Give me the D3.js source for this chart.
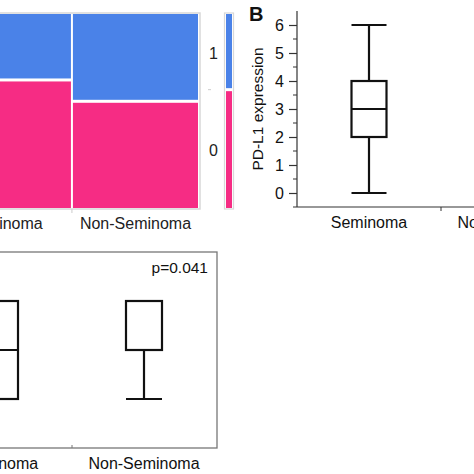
<!DOCTYPE html>
<html><head><meta charset="utf-8">
<script src="https://cdn.jsdelivr.net/npm/d3@7"></script>
<style>html,body{margin:0;padding:0;background:#fff;overflow:hidden}svg{display:block}text{font-family:Arial,"Liberation Sans",sans-serif}</style>
</head><body>
<svg id="c" width="474" height="474"></svg>
<script>
// ---- data ----
const categories = ["Seminoma", "Non-Seminoma"];
const mosaicColShare = [0.515, 0.485];      // column widths (share of patients)
const mosaicShare1 = [0.34, 0.45];          // share with PD-L1 = 1
const marginalShare1 = 0.39;
const mosaicLevels = ["1", "0"];
// panel B box stats (min, q1, median, q3, max)
const boxB = [{cat:"Seminoma", min:0, q1:2, med:3, q3:4, max:6}];
const yTicksB = [0,1,2,3,4,5,6];
const yLabelB = "PD-L1 expression";
// panel C box stats
const boxC = [
  {cat:"Seminoma", min:1, q1:1, med:2, q3:3, max:3},
  {cat:"Non-Seminoma", min:1, q1:2, med:2, q3:3, max:3}
];
const pText = "p=0.041";

const blue = "#4a82e8", pink = "#f62c84";
const svg = d3.select("#c");

// ---- Panel A: mosaic ----
const mx = d3.scaleLinear().domain([0,1]).range([-63, 199]);
const my = d3.scaleLinear().domain([0,1]).range([14, 208]);
let cum = 0;
const cols = categories.map((c,i)=>{const o={cat:c,x0:cum,x1:cum+mosaicColShare[i],p1:mosaicShare1[i]};cum+=mosaicColShare[i];return o;});
const gA = svg.append("g");
gA.append("rect").attr("x",mx(0)-1).attr("y",my(0)-1).attr("width",mx(1)-mx(0)+2).attr("height",my(1)-my(0)+2)
  .attr("fill","#fff").attr("stroke","#d8d8d8").attr("stroke-width",1.5);
cols.forEach(c=>{
  const x0=mx(c.x0)+1, w=mx(c.x1)-mx(c.x0)-2;
  gA.append("rect").attr("x",x0).attr("y",my(0)).attr("width",w).attr("height",my(c.p1)-my(0)-1.5).attr("fill",blue);
  gA.append("rect").attr("x",x0).attr("y",my(c.p1)+1.5).attr("width",w).attr("height",my(1)-my(c.p1)-1.5).attr("fill",pink);
  gA.append("text").attr("x",(mx(c.x0)+mx(c.x1))/2).attr("y",229).attr("text-anchor","middle")
    .attr("font-size",16).attr("fill","#222").text(c.cat);
});
// boundary tick
gA.append("line").attr("x1",mx(cols[0].x1)).attr("x2",mx(cols[0].x1)).attr("y1",my(1)+1).attr("y2",my(1)+5).attr("stroke","#ccc");
// level labels
gA.append("text").attr("x",209).attr("y",(my(0)+my(marginalShare1))/2+7).attr("font-size",16).attr("fill","#222").text(mosaicLevels[0]);
gA.append("text").attr("x",209).attr("y",(my(marginalShare1)+my(1))/2+7).attr("font-size",16).attr("fill","#222").text(mosaicLevels[1]);
gA.append("line").attr("x1",208).attr("x2",211).attr("y1",my(marginalShare1)).attr("y2",my(marginalShare1)).attr("stroke","#ccc");
// marginal bar
gA.append("rect").attr("x",224.5).attr("y",my(0)-1).attr("width",9).attr("height",my(1)-my(0)+2).attr("fill","#fff").attr("stroke","#d8d8d8").attr("stroke-width",1.2);
gA.append("rect").attr("x",226).attr("y",my(0)).attr("width",6).attr("height",my(marginalShare1)-my(0)-1.5).attr("fill",blue);
gA.append("rect").attr("x",226).attr("y",my(marginalShare1)+1.5).attr("width",6).attr("height",my(1)-my(marginalShare1)-1.5).attr("fill",pink);

// ---- Panel B ----
const bx = d3.scaleBand().domain(categories).range([297, 585]);
const by = d3.scaleLinear().domain([-0.5, 6.5]).range([207, 11]);
const gB = svg.append("g");
gB.append("text").attr("x",249).attr("y",21).attr("font-size",20).attr("font-weight","bold").attr("fill","#111").text("B");
const yAxB = d3.axisLeft(by).tickValues(yTicksB).tickSize(8).tickPadding(5).tickFormat(d3.format("d"));
const gyB = gB.append("g").attr("transform","translate(297,0)").call(yAxB);
gyB.select(".domain").attr("stroke","#333").attr("stroke-width",1.2).attr("d","M0,"+by(6.5)+"V"+by(-0.5));
gyB.selectAll(".tick line").attr("stroke","#333").attr("stroke-width",1.2);
gyB.selectAll(".tick text").attr("font-size",16).attr("fill","#111").attr("font-family","Arial,'Liberation Sans',sans-serif");
gB.append("g").selectAll("line").data(d3.range(-0.5,6.5,1)).join("line")
  .attr("x1",293).attr("x2",297).attr("y1",d=>by(d)).attr("y2",d=>by(d)).attr("stroke","#333");
gB.append("line").attr("x1",297).attr("x2",474).attr("y1",by(-0.5)).attr("y2",by(-0.5)).attr("stroke","#333").attr("stroke-width",1.2);
gB.append("line").attr("x1",bx("Non-Seminoma")).attr("x2",bx("Non-Seminoma")).attr("y1",by(-0.5)).attr("y2",by(-0.5)+4).attr("stroke","#333");
gB.append("text").attr("transform","translate(263,"+((by(6.5)+by(-0.5))/2)+") rotate(-90)").attr("text-anchor","middle")
  .attr("font-size",15.5).attr("fill","#111").text(yLabelB);
categories.forEach(c=>{
  gB.append("text").attr("x",bx(c)+bx.bandwidth()/2).attr("y",228).attr("text-anchor","middle").attr("font-size",16).attr("fill","#111").text(c);
});
function drawBox(g, x, y, d, bw){
  const cx = x(d.cat)+x.bandwidth()/2, h=bw/2;
  const st = {stroke:"#111","stroke-width":2.2,fill:"none"};
  const L=(x1,y1,x2,y2)=>{const l=g.append("line").attr("x1",x1).attr("y1",y1).attr("x2",x2).attr("y2",y2);Object.entries(st).forEach(([k,v])=>l.attr(k,v));};
  if(d.max>d.q3){L(cx,y(d.q3),cx,y(d.max));L(cx-h,y(d.max),cx+h,y(d.max));}
  if(d.min<d.q1){L(cx,y(d.q1),cx,y(d.min));L(cx-h,y(d.min),cx+h,y(d.min));}
  const r=g.append("rect").attr("x",cx-h).attr("y",y(d.q3)).attr("width",bw).attr("height",y(d.q1)-y(d.q3));
  Object.entries(st).forEach(([k,v])=>r.attr(k,v));
  L(cx-h,y(d.med),cx+h,y(d.med));
}
boxB.forEach(d=>drawBox(gB,bx,by,d,35));

// ---- Panel C ----
const cx = d3.scaleBand().domain(categories).range([-72, 216]);
const cy = d3.scaleLinear().domain([0,4]).range([448, 252]);
const gC = svg.append("g");
gC.append("rect").attr("x",-80).attr("y",cy(4)).attr("width",217+80).attr("height",cy(0)-cy(4)).attr("fill","none").attr("stroke","#777").attr("stroke-width",1.3);
gC.append("line").attr("x1",cx("Non-Seminoma")).attr("x2",cx("Non-Seminoma")).attr("y1",cy(0)).attr("y2",cy(0)-3).attr("stroke","#777");
gC.append("text").attr("x",208).attr("y",273).attr("text-anchor","end").attr("font-size",15.5).attr("fill","#111").text(pText);
categories.forEach(c=>{
  gC.append("text").attr("x",cx(c)+cx.bandwidth()/2).attr("y",469).attr("text-anchor","middle").attr("font-size",16).attr("fill","#111").text(c);
});
boxC.forEach(d=>drawBox(gC,cx,cy,d,36));
</script>
</body></html>
